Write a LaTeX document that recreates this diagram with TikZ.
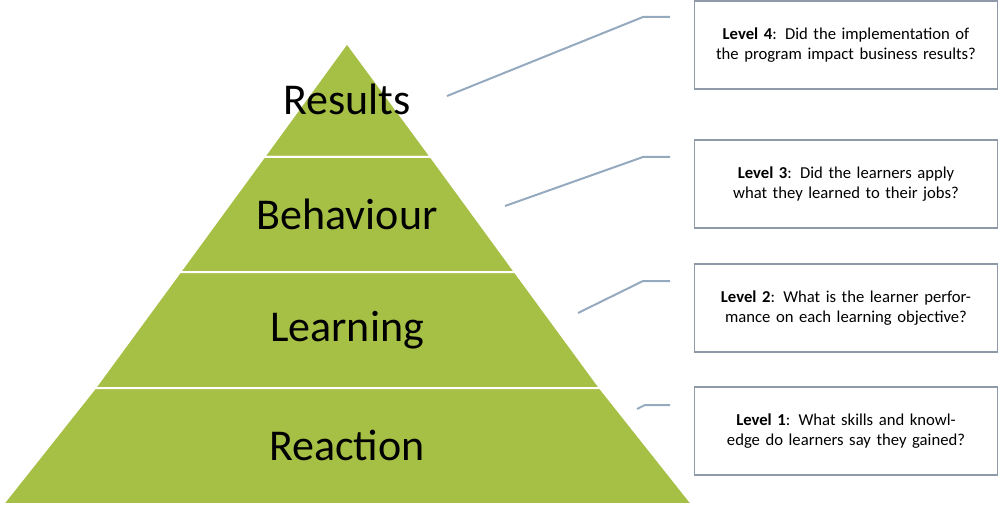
\documentclass[tikz,border=0pt]{standalone}
\usepackage{fontspec}
\setmainfont{Carlito}
\begin{document}
\begin{tikzpicture}[x=0.75pt,y=-0.75pt,
  layer/.style={fill=pyr,draw=white,line width=1.5pt},
  big/.style={font=\fontsize{33}{36}\selectfont},
  qbox/.style={draw=boxc,line width=1pt,fill=white,minimum width=303*0.75pt,minimum height=88*0.75pt,text width=280*0.75pt,align=center,font=\fontsize{12.5}{15}\selectfont,inner sep=2pt},
  conn/.style={draw=linec,line width=1.5pt}]
\definecolor{pyr}{HTML}{A6BF45}
\definecolor{boxc}{HTML}{8E9AA8}
\definecolor{linec}{HTML}{95A9BF}
\useasboundingbox (0,0) rectangle (1000,506);
% pyramid layers
\path[layer] (347,43) -- (264,157) -- (431,157) -- cycle;
\path[layer] (264,157) -- (180,272) -- (515,272) -- (431,157) -- cycle;
\path[layer] (180,272) -- (95,388) -- (600,388) -- (515,272) -- cycle;
\path[layer] (95,388) -- (3,504) -- (692,504) -- (600,388) -- cycle;
\node[big] (r) at (347,99) {Results};
\node[big] (b) at (347,214) {Behaviour};
\node[big] (l) at (347,330) {Learning};
\node[big] (re) at (347,445) {Reaction};
% boxes
\node[qbox] (q4) at (846,45) {\textbf{Level 4}: Did the implementation of the program impact business results?};
\node[qbox] (q3) at (846,184) {\textbf{Level 3}: Did the learners apply what they learned to their jobs?};
\node[qbox] (q2) at (846,308) {\textbf{Level 2}: What is the learner performance on each learning objective?};
\node[qbox] (q1) at (846,431) {\textbf{Level 1}: What skills and knowledge do learners say they gained?};
% connectors
\coordinate (a4) at (447,96); \coordinate (k4) at (643,17); \coordinate (e4) at (670,17);
\coordinate (a3) at (505,206); \coordinate (k3) at (643,157); \coordinate (e3) at (670,157);
\coordinate (a2) at (578,313); \coordinate (k2) at (643,281); \coordinate (e2) at (670,281);
\coordinate (a1) at (637,409); \coordinate (k1) at (645,405); \coordinate (e1) at (670,405);
\draw[conn] (a4) -- (k4) -- (e4);
\draw[conn] (a3) -- (k3) -- (e3);
\draw[conn] (a2) -- (k2) -- (e2);
\draw[conn] (a1) -- (k1) -- (e1);
\end{tikzpicture}
\end{document}
